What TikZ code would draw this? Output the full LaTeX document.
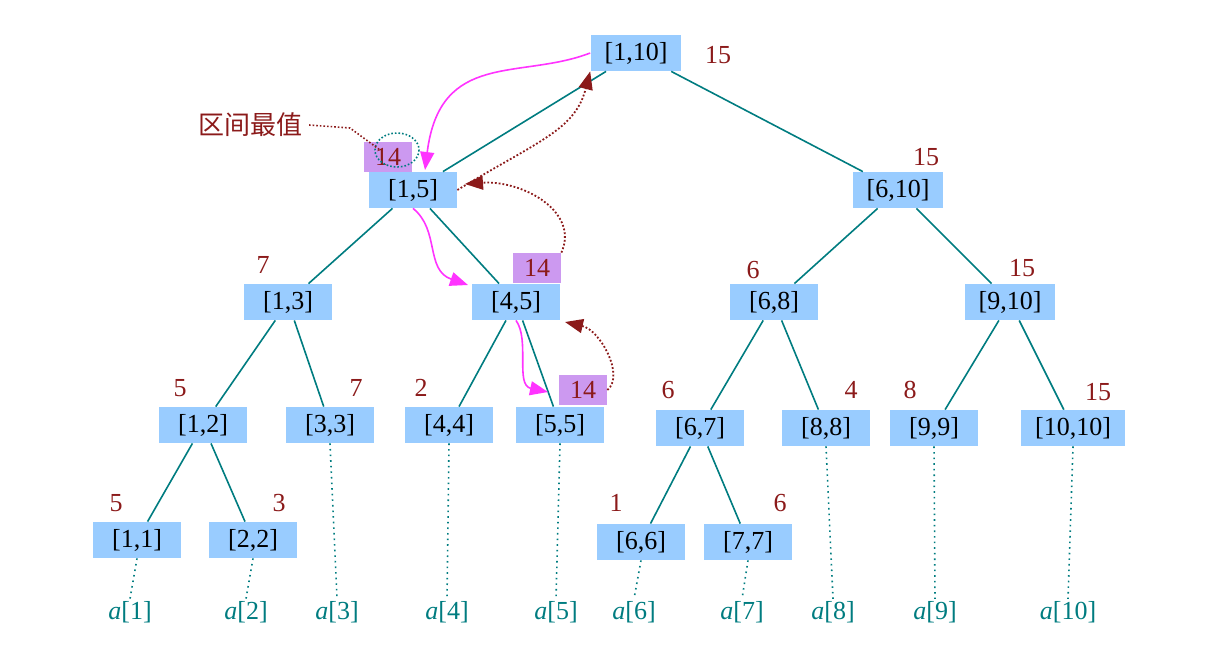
\documentclass[tikz,border=0pt]{standalone}
\usepackage{fontspec}
\setmainfont{Liberation Serif}
\newfontfamily\cjk{Noto Sans CJK SC}
\usetikzlibrary{arrows.meta}
\definecolor{boxblue}{HTML}{99CCFF}
\definecolor{edgeteal}{HTML}{007C80}
\definecolor{valred}{HTML}{8B1A1A}
\definecolor{maxpurple}{HTML}{CC99F0}
\definecolor{pathpink}{HTML}{FF33FF}
\tikzset{
  seg/.style={fill=boxblue,inner xsep=7pt,minimum width=44pt,minimum height=18pt,inner ysep=0pt},
  val/.style={text=valred,inner sep=1pt},
  maxbox/.style={fill=maxpurple,text=valred,minimum width=24pt,minimum height=15pt,inner sep=0pt},
  arr/.style={text=edgeteal,inner sep=1pt},
  edge/.style={edgeteal,line width=0.8pt},
  leaf/.style={edgeteal,dotted,line width=0.8pt},
  down/.style={pathpink,line width=0.8pt,-{Triangle[length=9pt,width=7pt]}},
  up/.style={valred,densely dotted,line width=0.9pt,-{Triangle[length=9pt,width=7pt]}}
}
\begin{document}
\begin{tikzpicture}[x=0.5pt,y=-0.5pt,font=\fontsize{13}{15}\selectfont]
\useasboundingbox (0,0) rectangle (1214,670);
% segment nodes
\node[seg] (n1) at (636,53) {[1,10]};
\node[seg] (n2) at (413,190) {[1,5]};
\node[seg] (n3) at (898,190) {[6,10]};
\node[seg] (n4) at (288,302) {[1,3]};
\node[seg] (n5) at (516,302) {[4,5]};
\node[seg] (n6) at (774,302) {[6,8]};
\node[seg] (n7) at (1010,302) {[9,10]};
\node[seg] (n8) at (203,425) {[1,2]};
\node[seg] (n9) at (330,425) {[3,3]};
\node[seg] (n10) at (449,425) {[4,4]};
\node[seg] (n11) at (560,425) {[5,5]};
\node[seg] (n12) at (700,428) {[6,7]};
\node[seg] (n13) at (826,428) {[8,8]};
\node[seg] (n14) at (934,428) {[9,9]};
\node[seg] (n15) at (1073,428) {[10,10]};
\node[seg] (n16) at (137,540) {[1,1]};
\node[seg] (n17) at (253,540) {[2,2]};
\node[seg] (n18) at (641,542) {[6,6]};
\node[seg] (n19) at (748,542) {[7,7]};
% tree edges
\foreach \p/\c in {n1/n2,n1/n3,n2/n4,n2/n5,n3/n6,n3/n7,n4/n8,n4/n9,n5/n10,n5/n11,
  n6/n12,n6/n13,n7/n14,n7/n15,n8/n16,n8/n17,n12/n18,n12/n19}
  \draw[edge] (\p) -- (\c);
% array elements
\foreach \n/\x/\i in {n16/130/1,n17/246/2,n9/337/3,n10/447/4,n11/556/5,n18/634/6,n19/742/7,n13/833/8,n14/935/9,n15/1068/10}{
  \node[arr] (a\i) at (\x,612) {\textit{a}[\i]};
  \draw[leaf] (\n.south) -- (a\i.north);
}
% interval maxima
\node[val] (v1) at (718,55) {15};
\node[maxbox] (m2) at (388,157) {14};
\node[val] (v3) at (926,157) {15};
\node[val] (v4) at (263,265) {7};
\node[maxbox] (m5) at (537,268) {14};
\node[val] (v6) at (753,270) {6};
\node[val] (v7) at (1022,268) {15};
\node[val] (v8) at (180,388) {5};
\node[val] (v9) at (356,388) {7};
\node[val] (v10) at (421,388) {2};
\node[maxbox] (m11) at (583,390) {14};
\node[val] (v12) at (668,390) {6};
\node[val] (v13) at (851,390) {4};
\node[val] (v14) at (910,390) {8};
\node[val] (v15) at (1098,392) {15};
\node[val] (v16) at (116,503) {5};
\node[val] (v17) at (279,503) {3};
\node[val] (v18) at (616,503) {1};
\node[val] (v19) at (780,503) {6};
% query path
\draw[down] (n1.west) .. controls (520,80) and (440,50) .. (425,170);
\draw[down] (n2.south) .. controls (440,230) and (425,270) .. (468,285);
\draw[down] (n5.south) .. controls (530,340) and (515,385) .. (548,392);
\draw[up] (n2.east) .. controls (540,140) and (575,130) .. (n1.south west);
\draw[up] (m5.north east) .. controls (580,210) and (520,180) .. (465,184);
\draw[up] (m11.east) .. controls (625,375) and (600,330) .. (565,322);
% label
\node[text=valred,font=\cjk\fontsize{13}{15}\selectfont] (lbl) at (250,125) {区间最值};
\draw[edgeteal,densely dotted,line width=0.8pt] (397,150) ellipse (22 and 17);
\draw[valred,densely dotted,line width=0.8pt] (lbl.east) -- (350,128) -- (380,150);
\end{tikzpicture}
\end{document}
